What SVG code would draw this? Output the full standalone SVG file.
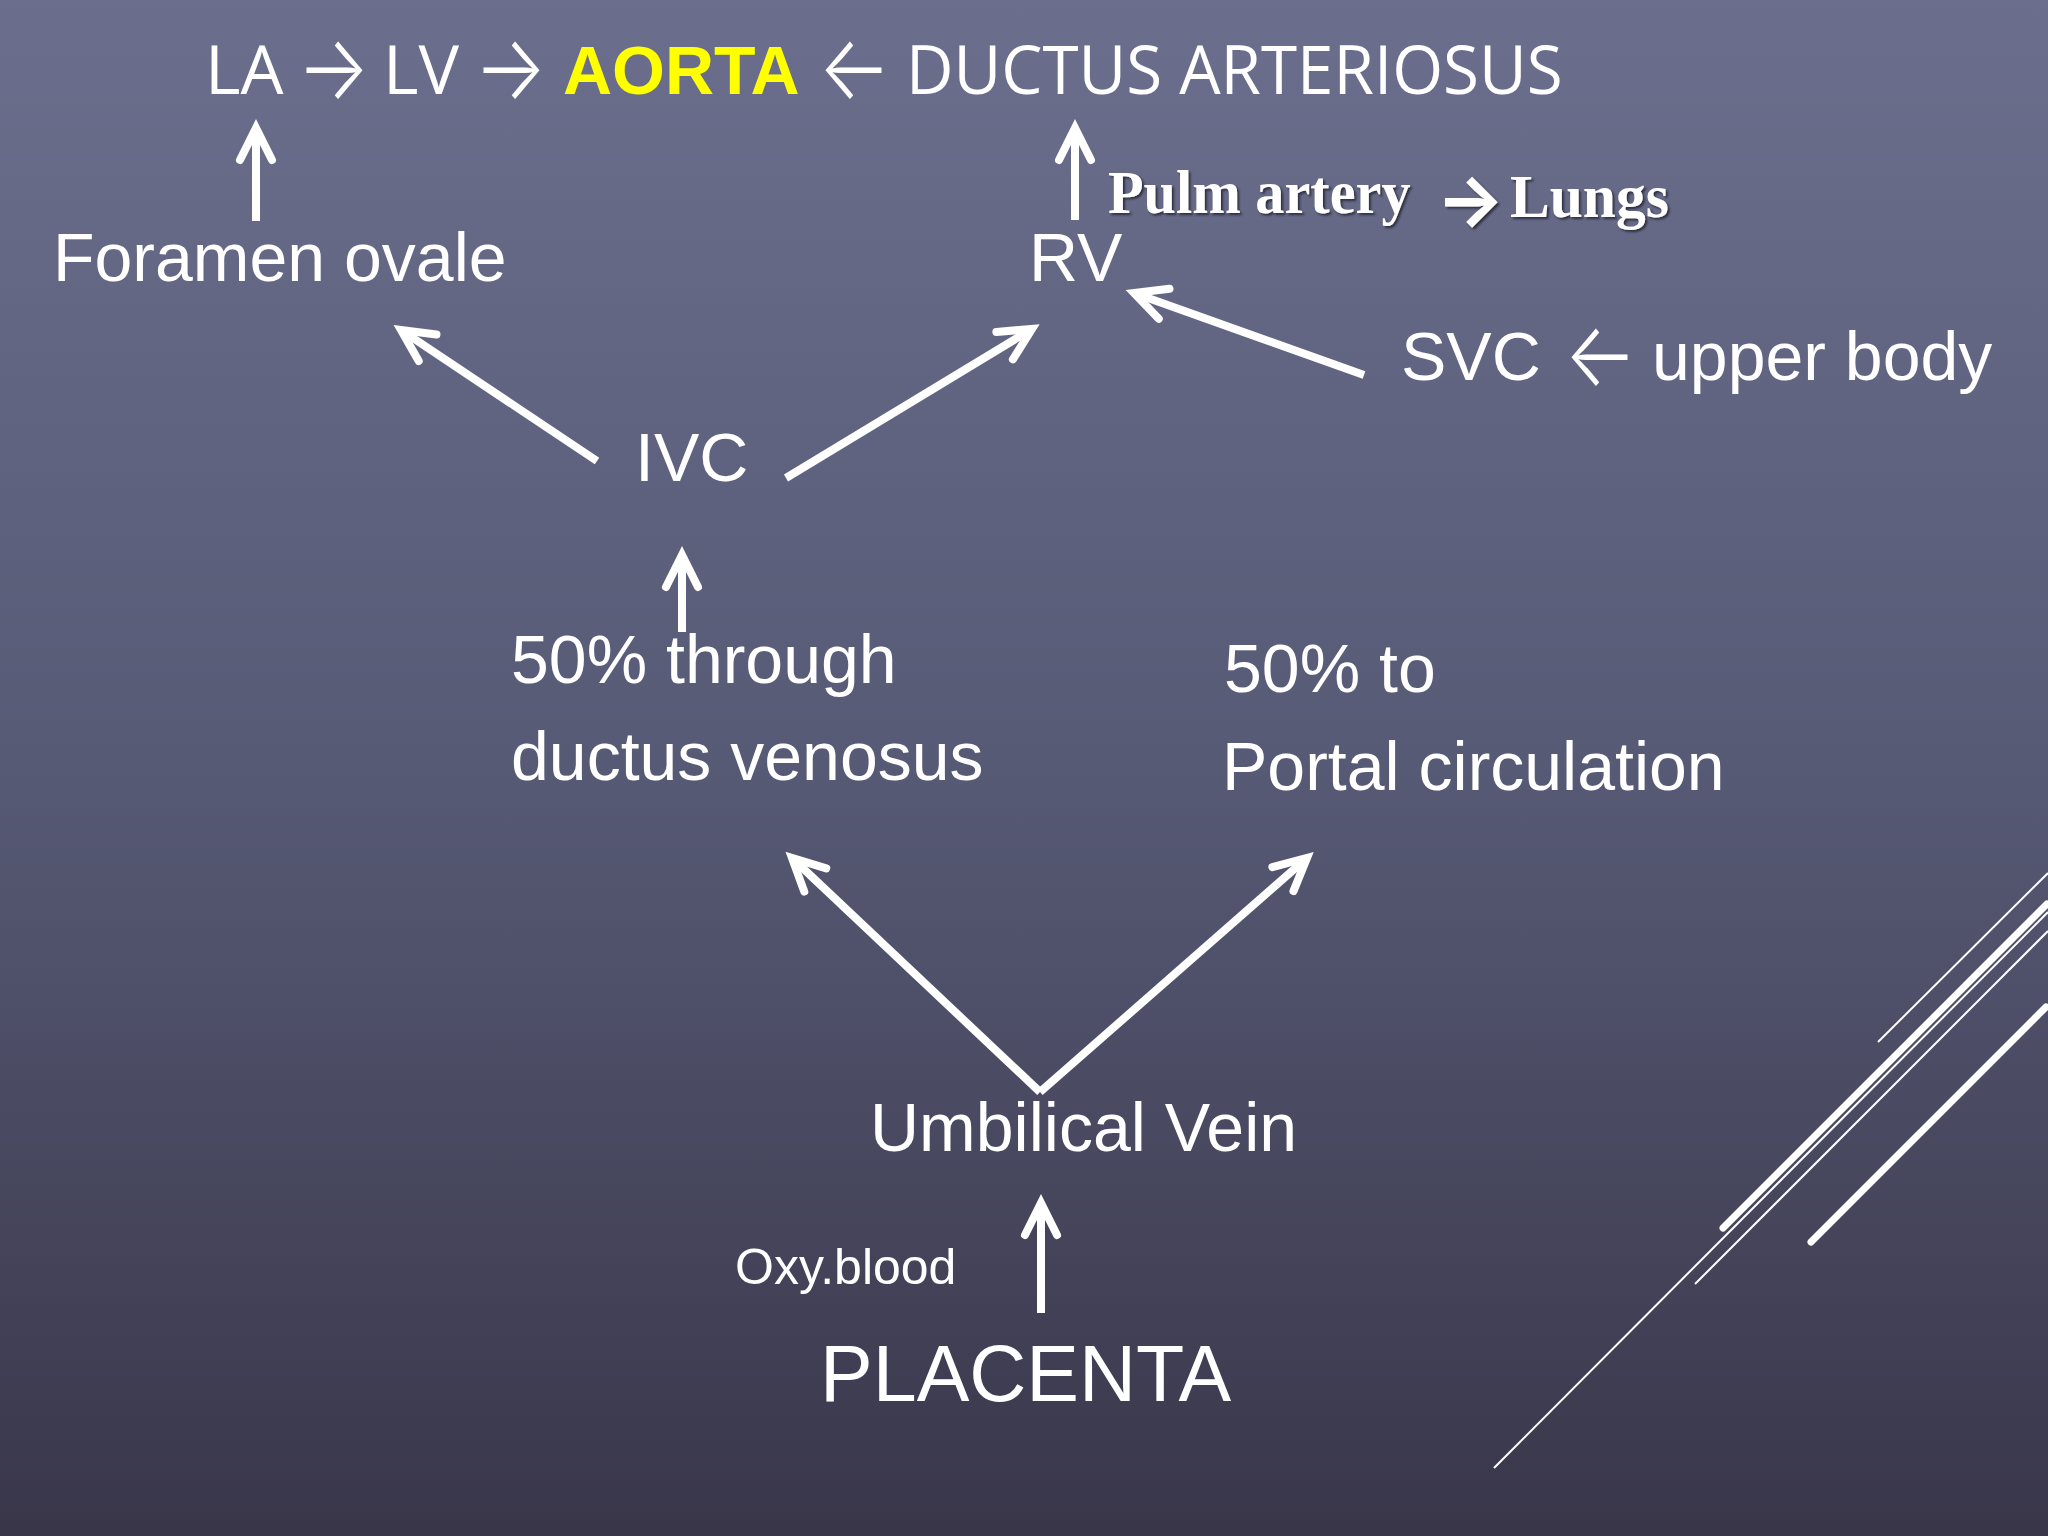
<svg xmlns="http://www.w3.org/2000/svg" width="2048" height="1536" viewBox="0 0 2048 1536">
<defs>
<linearGradient id="bg" x1="0" y1="0" x2="0" y2="1">
<stop offset="0" stop-color="#6b6f8d"/>
<stop offset="0.5" stop-color="#575a75"/>
<stop offset="1" stop-color="#39364a"/>
</linearGradient>
<marker id="ah" markerUnits="userSpaceOnUse" markerWidth="100" markerHeight="100" refX="0" refY="0" orient="auto" style="overflow:visible">
<path d="M-32,-16 L0,0 L-32,16" fill="none" stroke="#fff" stroke-width="8" stroke-linecap="round" stroke-linejoin="miter"/>
</marker>
<filter id="sh" x="-10%" y="-30%" width="120%" height="160%">
<feDropShadow dx="2" dy="2" stdDeviation="1.2" flood-color="#2a2a38" flood-opacity="0.9"/>
</filter>
<style>
.t{fill:#fff;font-family:"Liberation Sans",Arial,sans-serif;font-size:68px}
.h{fill:#fff;font-family:"Open Sans","DejaVu Sans",sans-serif;font-size:68px}
.ar{fill:#fff;font-family:Inter,"DejaVu Sans",sans-serif;font-size:90px;font-weight:300}
.ao{fill:#ffff00;font-family:"Liberation Sans",Arial,sans-serif;font-weight:bold;font-size:68px}
.s{fill:#fff;font-family:"Liberation Serif","Times New Roman",serif;font-weight:bold;font-size:62px}
.c{fill:none;stroke:#fff;stroke-width:8;marker-end:url(#ah)}
.dthin{stroke:#fff;stroke-width:2}
.dthick{stroke:#fff;stroke-width:7;stroke-linecap:round}
</style>
</defs>
<rect width="2048" height="1536" fill="url(#bg)"/>

<g id="decor">
<line class="dthin" x1="2048" y1="873" x2="1878" y2="1042"/>
<line class="dthick" x1="2047" y1="904" x2="1723" y2="1228"/>
<line class="dthin" x1="2048" y1="912" x2="1494" y2="1468"/>
<line class="dthin" x1="2048" y1="931" x2="1695" y2="1284"/>
<line class="dthick" x1="2046" y1="1007" x2="1811" y2="1242"/>
</g>

<g id="node-top">
<text class="h" x="205" y="94">LA</text>
<text class="ar" transform="translate(297,99) scale(0.85,1)">→</text>
<text class="h" x="383" y="94">LV</text>
<text class="ar" transform="translate(474,99) scale(0.85,1)">→</text>
<text class="ao" x="563" y="94">AORTA</text>
<text class="ar" transform="translate(818,99) scale(0.85,1)">←</text>
<text class="h" transform="translate(906,94) scale(0.963,1)">DUCTUS ARTERIOSUS</text>
</g>

<g id="node-foramen"><text class="t" x="53" y="281">Foramen ovale</text></g>
<g id="node-rv"><text class="t" x="1029" y="281">RV</text></g>
<g id="node-pulm" filter="url(#sh)">
<text class="s" transform="translate(1108,213) scale(0.94,1)">Pulm artery</text>
<text class="ar" x="1436" y="225" style="font-size:72px;font-weight:700">→</text>
<text class="s" transform="translate(1510,217) scale(0.96,1)">Lungs</text>
</g>
<g id="node-svc">
<text class="t" x="1401" y="380">SVC</text>
<text class="ar" transform="translate(1564,386) scale(0.85,1)">←</text>
<text class="t" x="1652" y="380">upper body</text>
</g>
<g id="node-ivc"><text class="t" x="635" y="481">IVC</text></g>
<g id="node-dv">
<text class="t" x="511" y="683">50% through</text>
<text class="t" x="511" y="780">ductus venosus</text>
</g>
<g id="node-portal">
<text class="t" x="1224" y="692">50% to</text>
<text class="t" x="1222" y="790">Portal circulation</text>
</g>
<g id="node-umbilical"><text class="t" x="870" y="1151">Umbilical Vein</text></g>
<g id="node-oxy"><text class="t" x="735" y="1284" style="font-size:50px">Oxy.blood</text></g>
<g id="node-placenta"><text class="t" x="820" y="1401" style="font-size:79px">PLACENTA</text></g>

<g id="connectors">
<line class="c" x1="256" y1="221" x2="256" y2="128"/>
<line class="c" x1="1075" y1="220" x2="1075" y2="128"/>
<line class="c" x1="597" y1="461" x2="401" y2="330"/>
<line class="c" x1="786" y1="478" x2="1032" y2="329"/>
<line class="c" x1="1364" y1="375" x2="1134" y2="293"/>
<line class="c" x1="682" y1="632" x2="682" y2="555"/>
<line class="c" x1="1040" y1="1092" x2="792" y2="858"/>
<line class="c" x1="1040" y1="1092" x2="1307" y2="858"/>
<line class="c" x1="1041" y1="1313" x2="1041" y2="1203"/>
</g>
</svg>
